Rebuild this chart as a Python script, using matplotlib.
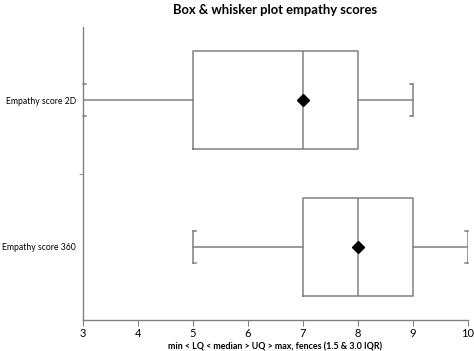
import matplotlib
matplotlib.use("Agg")
import matplotlib.pyplot as plt

categories = ['Empathy score 360', 'Empathy score 2D']
mins = [5, 3]
lower_q = [7, 5]
medians = [8, 7]
upper_q = [9, 8]
maxs = [10, 9]
means = [8, 7]
x_ticks = [3, 4, 5, 6, 7, 8, 9, 10]

plt.rcParams['font.family'] = ['Lato', 'DejaVu Sans']
GREY = '#808080'

fig = plt.figure(figsize=(4.74, 3.51), dpi=100)
ax = fig.add_axes([0.175, 0.088, 0.812, 0.835])

stats = []
for i, name in enumerate(categories):
    stats.append({'label': name, 'whislo': mins[i], 'q1': lower_q[i], 'med': medians[i],
                  'q3': upper_q[i], 'whishi': maxs[i], 'mean': means[i], 'fliers': []})

positions = [0.5, 1.5]
ax.bxp(stats, positions=positions, orientation='horizontal', widths=0.67, showmeans=True,
       capwidths=0.22,
       boxprops=dict(color=GREY, linewidth=1.1),
       whiskerprops=dict(color=GREY, linewidth=1.1),
       capprops=dict(color=GREY, linewidth=1.1),
       medianprops=dict(color=GREY, linewidth=1.1),
       meanprops=dict(marker='D', markerfacecolor='black', markeredgecolor='black', markersize=6))

# small bracket ends on the caps
for pos, lo, hi in zip(positions, mins, maxs):
    for x, d in ((lo, 0.06), (hi, -0.06)):
        for yy in (pos - 0.11, pos + 0.11):
            ax.plot([x, x + d], [yy, yy], color=GREY, linewidth=1.1, clip_on=False)

ax.set_xlim(3, 10)
ax.set_ylim(0, 2)
ax.set_xticks(x_ticks)
ax.set_xticklabels([str(t) for t in x_ticks], fontsize=8)
ax.set_yticks(positions)
ax.set_yticklabels(categories, fontsize=6.2)
ax.set_yticks([1], minor=True)
ax.tick_params(axis='y', which='major', length=0, pad=5)
ax.tick_params(axis='y', which='minor', length=3, color=GREY)
ax.tick_params(axis='x', length=4, color=GREY, pad=2)

for side in ('top', 'right'):
    ax.spines[side].set_visible(False)
for side in ('left', 'bottom'):
    ax.spines[side].set_color(GREY)
    ax.spines[side].set_linewidth(1.0)

ax.set_xlabel('min < LQ < median > UQ > max, fences (1.5 & 3.0 IQR)', fontsize=6.4,
              fontweight='bold', labelpad=2)
fig.text(0.581, 0.99, 'Box & whisker plot empathy scores', ha='center', va='top',
         fontsize=9.4, fontweight='bold')

fig.savefig('out.png', dpi=100)
